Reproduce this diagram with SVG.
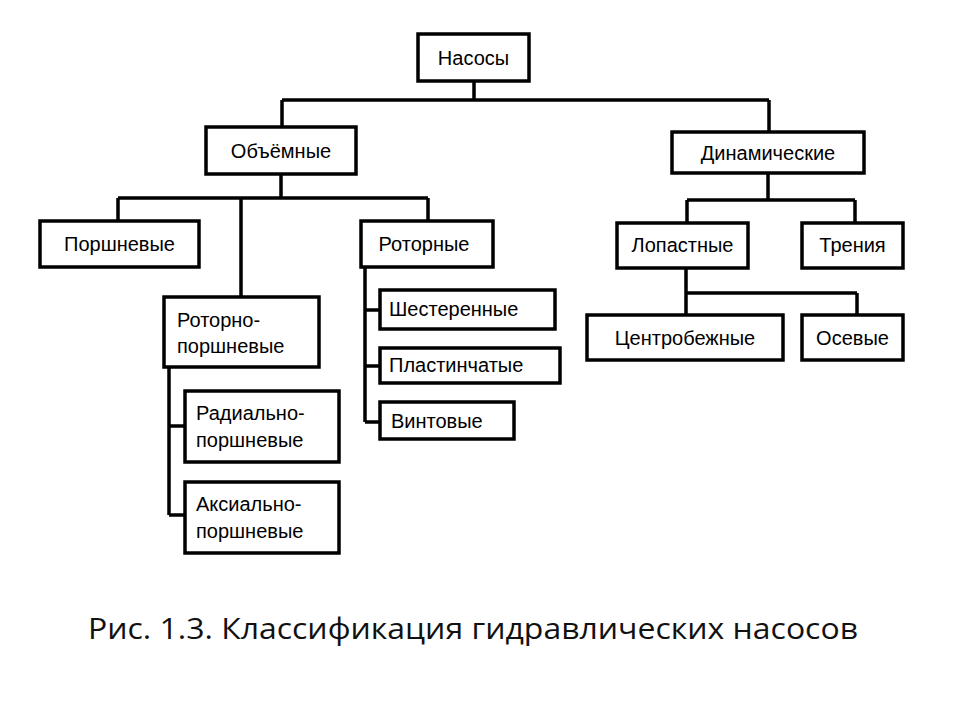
<svg xmlns="http://www.w3.org/2000/svg" width="960" height="720" viewBox="0 0 960 720">
<style>
rect{fill:#fff;stroke:#000;stroke-width:3.5}
text{font-family:"Liberation Sans",Arial,sans-serif;font-size:20px;fill:#000}
.c{text-anchor:middle}
#connectors path{fill:none;stroke:#000;stroke-width:3.5}
.cap{font-family:"Open Sans","Liberation Sans",sans-serif;font-size:29px;fill:#111}
</style>
<rect x="0" y="0" width="960" height="720" style="stroke:none"/>
<g id="connectors">
<path d="M474,81V100M282,100H769M282,100V127M769,100V132"/>
<path d="M281,174V198M118,198H428M118,198V221M428,198V221M241,198V296"/>
<path d="M169,367V515M169,426H185M169,515H185"/>
<path d="M365,267V422M365,310H380M365,366H380M365,422H380"/>
<path d="M768,173V200M687,200H855M687,200V223M855,200V223"/>
<path d="M686,268V293M686,293H857M686,293V315M857,293V315"/>
</g>
<g id="n1"><rect x="418" y="34" width="111" height="47"/><text class="c" x="473.5" y="65">Насосы</text></g>
<g id="n2"><rect x="206" y="127" width="150" height="47"/><text class="c" x="281" y="158">Объёмные</text></g>
<g id="n3"><rect x="672" y="132" width="192" height="41"/><text class="c" x="768" y="160">Динамические</text></g>
<g id="n4"><rect x="40" y="221" width="159" height="46"/><text class="c" x="119.5" y="251">Поршневые</text></g>
<g id="n5"><rect x="361" y="221" width="132" height="46"/><text class="c" x="424" y="251">Роторные</text></g>
<g id="n6"><rect x="164" y="297" width="155" height="70"/><text x="177" y="327">Роторно-</text><text x="177" y="353">поршневые</text></g>
<g id="n7"><rect x="185" y="391" width="154" height="71"/><text x="196" y="420">Радиально-</text><text x="196" y="447">поршневые</text></g>
<g id="n8"><rect x="185" y="482" width="154" height="71"/><text x="196" y="511">Аксиально-</text><text x="196" y="538">поршневые</text></g>
<g id="n9"><rect x="380" y="290" width="175" height="39"/><text x="389" y="316">Шестеренные</text></g>
<g id="n10"><rect x="380" y="348" width="180" height="35"/><text x="389" y="372">Пластинчатые</text></g>
<g id="n11"><rect x="380" y="402" width="134" height="37"/><text x="391" y="428">Винтовые</text></g>
<g id="n12"><rect x="617" y="223" width="131" height="45"/><text class="c" x="682.5" y="252">Лопастные</text></g>
<g id="n13"><rect x="802" y="223" width="101" height="45"/><text class="c" x="852.5" y="252">Трения</text></g>
<g id="n14"><rect x="587" y="315" width="196" height="45"/><text class="c" x="685" y="345">Центробежные</text></g>
<g id="n15"><rect x="802" y="315" width="101" height="45"/><text class="c" x="852.5" y="345">Осевые</text></g>
<text class="cap" x="88" y="639" textLength="770" lengthAdjust="spacingAndGlyphs">Рис. 1.3. Классификация гидравлических насосов</text>
</svg>
